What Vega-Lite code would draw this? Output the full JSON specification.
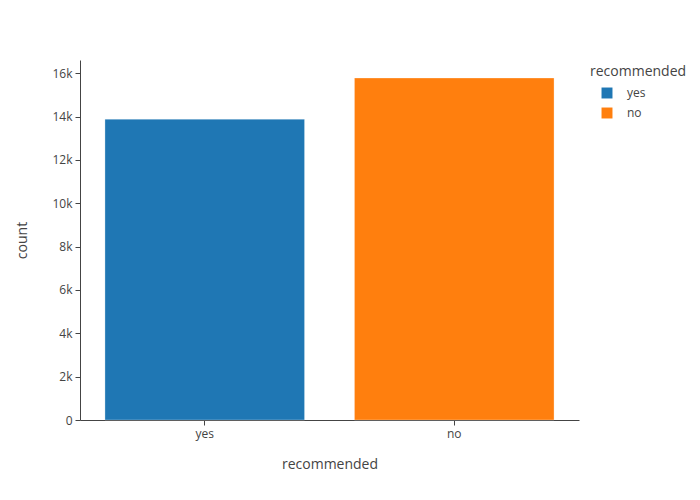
{
  "$schema": "https://vega.github.io/schema/vega-lite/v6.json",
  "width": 499,
  "height": 360,
  "autosize": {"type": "none"},
  "padding": {"left": 80, "top": 60, "right": 121, "bottom": 80},
  "background": "white",
  "data": {
    "values": [
      {"recommended": "yes", "count": 13880},
      {"recommended": "no", "count": 15780}
    ]
  },
  "mark": {"type": "bar", "stroke": "#ffffff", "strokeWidth": 0.5, "strokeOpacity": 0.6},
  "encoding": {
    "x": {
      "field": "recommended",
      "type": "nominal",
      "sort": ["yes", "no"],
      "scale": {"paddingInner": 0.2, "paddingOuter": 0.1},
      "axis": {
        "labelAngle": 0,
        "title": "recommended",
        "titleY": 44,
        "titleBaseline": "middle",
        "titleFontSize": 14,
        "titleFontWeight": "normal"
      }
    },
    "y": {
      "field": "count",
      "type": "quantitative",
      "scale": {"domain": [0, 16610], "nice": false},
      "axis": {
        "values": [0, 2000, 4000, 6000, 8000, 10000, 12000, 14000, 16000],
        "labelExpr": "datum.value == 0 ? '0' : format(datum.value, '~s')",
        "title": "count",
        "titleX": -58,
        "titleY": 180,
        "titleAngle": -90,
        "titleAlign": "center",
        "titleBaseline": "middle",
        "titleFontSize": 14,
        "titleFontWeight": "normal",
        "grid": false
      }
    },
    "color": {
      "field": "recommended",
      "type": "nominal",
      "sort": ["yes", "no"],
      "scale": {"domain": ["yes", "no"], "range": ["#1f77b4", "#ff7f0e"]},
      "legend": {
        "orient": "none",
        "legendX": 510,
        "legendY": 5,
        "title": "recommended",
        "titleFontSize": 14,
        "titleFontWeight": "normal",
        "titleColor": "#444",
        "titlePadding": 8,
        "labelFontSize": 12,
        "labelColor": "#444",
        "symbolType": "square",
        "symbolSize": 120,
        "symbolStrokeWidth": 0,
        "symbolOffset": 11,
        "rowPadding": 8,
        "labelOffset": 14,
        "padding": 0,
        "offset": 0
      }
    }
  },
  "config": {
    "font": "Open Sans",
    "view": {"stroke": null},
    "axis": {
      "labelFont": "Open Sans",
      "titleFont": "Open Sans",
      "labelFontSize": 12,
      "labelColor": "#444",
      "titleColor": "#444",
      "domainColor": "#444",
      "tickColor": "#444",
      "tickSize": 5,
      "labelPadding": 3,
      "domainWidth": 1
    },
    "legend": {"labelFont": "Open Sans", "titleFont": "Open Sans"}
  }
}
